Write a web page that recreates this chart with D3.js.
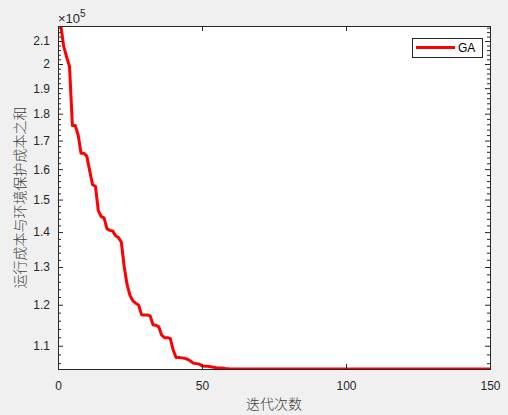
<!DOCTYPE html>
<html><head><meta charset="utf-8">
<script src="https://cdn.jsdelivr.net/npm/d3@7"></script>
<style>
html,body{margin:0;padding:0;background:#f0f0f0;}
svg{display:block;}
</style></head>
<body>
<svg id="chart" width="508" height="415"></svg>
<script>
// ---- data ----
const iterations = d3.range(1, 151);
const gaHead = [
  216800, 207500, 203000, 199000, 175500, 175500, 172000, 165500, 165500, 164500,
  159500, 154800, 154300, 146500, 144700, 144300, 141000, 140500, 140300, 138900,
  138400, 137000, 130000, 125200, 122400, 121000, 120400, 119900, 117500, 117400,
  117400, 117200, 115000, 114900, 114500, 112500, 111900, 111900, 111700, 109000,
  107300, 107300, 107200, 107100, 106900, 106500, 106000, 105900, 105800, 105400,
  105300, 105300, 105200, 105100, 105000, 104950, 104900, 104800, 104750
];
const gaTail = new Array(150 - gaHead.length).fill(104700);
const gaValues = gaHead.concat(gaTail);
const seriesName = "GA";
const xTicks = [0, 50, 100, 150];
const yTicks = [110000, 120000, 130000, 140000, 150000, 160000, 170000, 180000, 190000, 200000, 210000];
const yTickLabels = ["1.1", "1.2", "1.3", "1.4", "1.5", "1.6", "1.7", "1.8", "1.9", "2", "2.1"];
const yMinorTicks = d3.range(106000, 217000, 2000).filter(v => v % 10000 !== 0);
const xLabel = "迭代次数";
const yLabel = "运行成本与环境保护成本之和";
const exponentLabel = "5";

// ---- layout ----
const svg = d3.select("#chart");
const L = 58, R = 490, T = 26, B = 369;
const axisColor = "#262626";
const tickFont = "'Liberation Sans', Arial, Helvetica, sans-serif";

const x = d3.scaleLinear().domain([0, 150]).range([L, R]);
const y = d3.scaleLog().domain(d3.extent(gaValues)).range([B, T]);

svg.append("rect").attr("x", L).attr("y", T).attr("width", R - L).attr("height", B - T).attr("fill", "#fff");

svg.append("clipPath").attr("id", "clip").append("rect")
  .attr("x", L).attr("y", T).attr("width", R - L).attr("height", B - T);

// line
const line = d3.line().x((d, i) => x(iterations[i])).y(d => y(d));
svg.append("path").datum(gaValues)
  .attr("clip-path", "url(#clip)")
  .attr("d", line).attr("fill", "none").attr("stroke", "#ff0000")
  .attr("stroke-width", 3).attr("stroke-linejoin", "round");

// axes
const gx = svg.append("g").attr("transform", `translate(0,${B})`)
  .call(d3.axisBottom(x).tickValues(xTicks).tickSize(-5).tickPadding(12).tickFormat(d3.format("d")));
const gxTop = svg.append("g").attr("transform", `translate(0,${T})`)
  .call(d3.axisTop(x).tickValues(xTicks).tickSize(-5).tickFormat(""));
const gy = svg.append("g").attr("transform", `translate(${L},0)`)
  .call(d3.axisLeft(y).tickValues(yTicks).tickSize(-5).tickPadding(8).tickFormat((d, i) => yTickLabels[i]));
const gyR = svg.append("g").attr("transform", `translate(${R},0)`)
  .call(d3.axisRight(y).tickValues(yTicks).tickSize(-5).tickFormat(""));
const gyMin = svg.append("g").attr("transform", `translate(${L},0)`)
  .call(d3.axisLeft(y).tickValues(yMinorTicks).tickSize(-3).tickFormat(""));
const gyMinR = svg.append("g").attr("transform", `translate(${R},0)`)
  .call(d3.axisRight(y).tickValues(yMinorTicks).tickSize(-3).tickFormat(""));

[gx, gxTop, gy, gyR, gyMin, gyMinR].forEach(g => {
  g.select(".domain").remove();
  g.selectAll("line").attr("stroke", axisColor).attr("stroke-width", 1);
  g.selectAll("text").attr("fill", axisColor).style("font-family", tickFont).style("font-size", "12px");
});

// box
svg.append("rect").attr("x", L + 0.5).attr("y", T + 0.5).attr("width", R - L).attr("height", B - T)
  .attr("fill", "none").attr("stroke", axisColor).attr("stroke-width", 1);

// exponent label
const ex = svg.append("text").attr("x", L).attr("y", 23)
  .attr("fill", axisColor).style("font-family", tickFont).style("font-size", "13px");
ex.append("tspan").text("×10");
ex.append("tspan").attr("dy", -6).style("font-size", "10px").text(exponentLabel);

// axis labels
const cjk = "'Noto Sans CJK SC', sans-serif";
svg.append("text").attr("x", (L + R) / 2).attr("y", 409).attr("text-anchor", "middle")
  .attr("fill", "#404040").style("font-family", cjk).style("font-size", "14px").style("font-weight", 300)
  .text(xLabel);
svg.append("text").attr("transform", `translate(25,${(T + B) / 2}) rotate(-90)`).attr("text-anchor", "middle")
  .attr("fill", "#404040").style("font-family", cjk).style("font-size", "14px").style("font-weight", 300)
  .text(yLabel);

// legend
const lg = svg.append("g");
lg.append("rect").attr("x", 412.5).attr("y", 38.5).attr("width", 70).attr("height", 19)
  .attr("fill", "#fff").attr("stroke", axisColor).attr("stroke-width", 1);
lg.append("line").attr("x1", 416).attr("x2", 455).attr("y1", 47.5).attr("y2", 47.5)
  .attr("stroke", "#ff0000").attr("stroke-width", 3);
lg.append("text").attr("x", 458).attr("y", 52).attr("fill", "#000")
  .style("font-family", tickFont).style("font-size", "12px").text(seriesName);
</script>
</body></html>
